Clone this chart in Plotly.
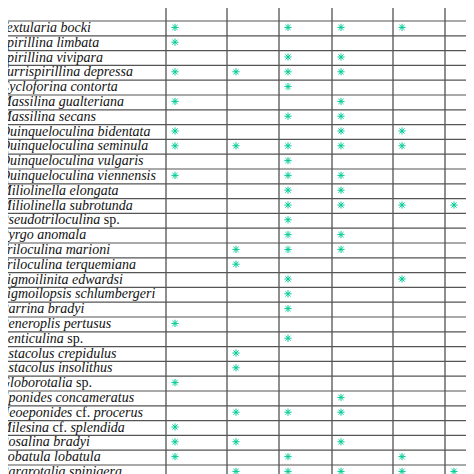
import plotly.graph_objects as go

# column headers (depth) and species list with presence marks
headers = ["10m", "20m", "10m", "20m", "10m", "20m"]
species = [
    "<i>Textularia bocki</i>", "<i>Spirillina limbata</i>", "<i>Spirillina vivipara</i>",
    "<i>Turrispirillina depressa</i>", "<i>Cycloforina contorta</i>", "<i>Massilina gualteriana</i>",
    "<i>Massilina secans</i>", "<i>Quinqueloculina bidentata</i>", "<i>Quinqueloculina seminula</i>",
    "<i>Quinqueloculina vulgaris</i>", "<i>Quinqueloculina viennensis</i>", "<i>Miliolinella elongata</i>",
    "<i>Miliolinella subrotunda</i>", "<i>Pseudotriloculina</i> sp.", "<i>Pyrgo anomala</i>",
    "<i>Triloculina marioni</i>", "<i>Triloculina terquemiana</i>", "<i>Sigmoilinita edwardsi</i>",
    "<i>Sigmoilopsis schlumbergeri</i>", "<i>Parrina bradyi</i>", "<i>Peneroplis pertusus</i>",
    "<i>Lenticulina</i> sp.", "<i>Astacolus crepidulus</i>", "<i>Astacolus insolithus</i>",
    "<i>Globorotalia</i> sp.", "<i>Eponides concameratus</i>", "<i>Neoeponides</i> cf. <i>procerus</i>",
    "<i>Milesina</i> cf. <i>splendida</i>", "<i>Rosalina bradyi</i>", "<i>Lobatula lobatula</i>",
    "<i>Pararotalia spinigera</i>",
]
presence = [
    [1, 3, 4, 5], [1], [3, 4], [1, 2, 3, 4], [3], [1, 4], [3, 4], [1, 4, 5],
    [1, 2, 3, 4, 5], [3], [1, 3, 4], [3, 4], [3, 4, 5, 6], [3], [3, 4],
    [2, 3, 4], [2], [3, 5], [3], [3], [1], [3], [2], [2], [1], [4],
    [2, 3, 4], [1], [1, 2, 4], [1, 3, 5], [2, 3, 4, 5, 6],
]

# table geometry (pixels)
col_edges = [166, 227, 279, 332, 393, 445, 500]
header_h = 21
row_h = 14.8
W = 474
OFF = 8  # page body margin

fig = go.Figure()
font = dict(family="Liberation Serif", size=14, color="#111")

# grid lines
shapes = []
for x in col_edges[:-1]:
    shapes.append(dict(type="line", x0=x, x1=x, y0=-5, y1=500, line=dict(color="#444", width=1.2)))
for i in range(len(species) + 1):
    y = header_h + i * row_h
    shapes.append(dict(type="line", x0=-10, x1=W + 10, y0=y, y1=y, line=dict(color="#555", width=1.2)))

# species names
fig.add_trace(go.Scatter(
    x=[0] * len(species),
    y=[header_h + (i + 0.5) * row_h for i in range(len(species))],
    text=species, mode="text", textposition="middle right", textfont=font,
    hoverinfo="skip"))

# headers
fig.add_trace(go.Scatter(
    x=[e + 6 for e in col_edges[:-1]], y=[-1] * len(headers),
    text=headers, mode="text", textposition="middle right", textfont=font,
    hoverinfo="skip"))

# asterisks
ax, ay = [], []
for i, cols in enumerate(presence):
    for c in cols:
        ax.append(col_edges[c - 1] + 9)
        ay.append(header_h + (i + 0.5) * row_h - 1)
fig.add_trace(go.Scatter(
    x=ax, y=ay, mode="markers",
    marker=dict(symbol="asterisk-open", size=6, line=dict(color="#999", width=1)),
    hoverinfo="skip"))

fig.update_layout(
    width=W, height=W, margin=dict(l=0, r=0, t=0, b=0),
    paper_bgcolor="white", plot_bgcolor="white", showlegend=False,
    shapes=shapes,
    xaxis=dict(range=[OFF, W + OFF], visible=False, fixedrange=True),
    yaxis=dict(range=[W + OFF, OFF], visible=False, fixedrange=True),
)
fig.write_html("out.html")
